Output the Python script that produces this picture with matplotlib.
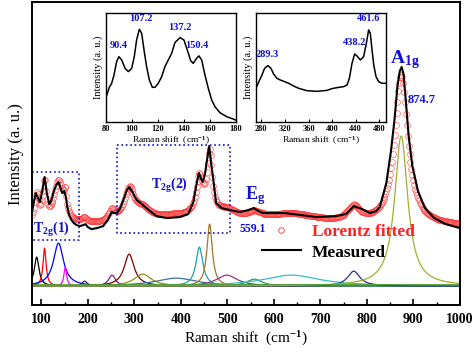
import numpy as np
import matplotlib
matplotlib.use("Agg")
import matplotlib.pyplot as plt
from matplotlib.lines import Line2D

plt.rcParams['font.family'] = ['Liberation Serif', 'DejaVu Serif']
plt.rcParams['font.weight'] = 'bold'
plt.rcParams['mathtext.fontset'] = 'custom'
plt.rcParams['mathtext.rm'] = 'Liberation Serif:bold'
plt.rcParams['mathtext.it'] = 'Liberation Serif:bold:italic'
plt.rcParams['mathtext.bf'] = 'Liberation Serif:bold'

# measured spectrum (arb. units)
meas_x = [80, 84, 88, 92, 97, 102, 107, 112, 117, 122, 127, 132, 137, 141, 145, 149.5, 153, 156,
          160, 165, 170, 176, 183, 190, 195, 200, 208, 220, 233, 243, 251, 257, 263, 270, 278,
          284, 289, 295, 305, 319, 334, 348, 370, 398, 416, 427, 433, 439, 443, 447, 452, 457,
          461, 465, 470, 476, 488, 506, 527, 545, 557, 567, 577, 600, 624, 660, 692, 735, 755,
          772, 790, 807, 820, 828, 842, 852, 860, 866, 871, 875, 879, 884, 890, 898, 910, 925,
          945, 970, 1000]
meas_y = [74, 84, 93, 89, 84, 95, 109, 93, 82, 86, 95, 101, 104, 99, 93, 95, 89, 79,
          71, 66, 63, 61, 60, 61, 62, 59, 57, 58, 60, 66, 74, 73, 73, 78, 88,
          96, 99, 95, 86, 81, 75, 70, 68, 69, 72, 84, 100, 113, 108, 104, 112, 128,
          140, 124, 106, 83, 78, 76, 74, 76, 78, 75, 73, 73, 73, 71, 69, 70, 72,
          80, 77, 73, 75, 79, 103, 135, 168, 200, 215, 219, 212, 185, 150, 120, 95, 78,
          68, 62, 58]

# Lorentz components: centre (cm-1), height, FWHM
peak_pos = [90, 107, 137, 151.5, 193, 252, 289, 318, 390, 440, 462, 499, 558, 638, 772, 874, 600]
peak_amp = [29, 38, 43, 19, 5, 11, 32, 12, 8, 39, 62, 11, 7, 11, 15, 150, 1.5]
peak_fwhm = [12, 8, 26, 7, 14, 18, 26, 45, 110, 18, 14, 55, 40, 150, 32, 34, 3000]
peak_col = ['black', 'red', 'blue', 'magenta', '#2020c0', '#802080', '#800000', '#909010',
            '#4070a0', '#20a0a8', '#a07828', '#a03078', '#30a060', '#30c0c8', '#303090',
            '#a0b030', '#50a030']
fit_offset = 58

# insets
ins1_x = [80.0, 82.8, 84.6, 86.4, 88.4, 90.2, 92.3, 94.9, 97.4, 100, 102, 103.8, 105.9, 107.7,
          109.5, 111.5, 113.6, 115.9, 117.9, 120.5, 123.1, 125.6, 128.2, 130.8, 133.3, 137.2,
          140.2, 142.8, 145.4, 147.4, 150, 151.8, 153.9, 156.4, 159, 161.6, 164.1, 168, 173.1,
          178.2, 180]
ins1_y = [0.220, 0.321, 0.358, 0.434, 0.556, 0.602, 0.572, 0.495, 0.465, 0.495, 0.602, 0.755,
          0.853, 0.816, 0.664, 0.510, 0.388, 0.321, 0.321, 0.358, 0.419, 0.510, 0.572, 0.633,
          0.731, 0.777, 0.755, 0.664, 0.566, 0.541, 0.587, 0.609, 0.572, 0.434, 0.312, 0.205,
          0.144, 0.088, 0.052, 0.030, 0.021]
ins1_lab = ['90.4', '107.2', '137.2', '150.4']
ins1_lab_x = [90.4, 107.2, 137.2, 150.4]
ins1_lab_y = [0.66, 0.91, 0.83, 0.66]

ins2_x = [272.7, 277.2, 281.2, 285.6, 291.3, 296.4, 300.9, 306.6, 312.2, 319.5, 326.3, 334.8,
          343.3, 357.4, 374.4, 391.4, 399.8, 408.3, 419.5, 425.3, 429.2, 433.7, 438.2, 442.2,
          447.8, 453.4, 458, 461.9, 464.7, 467.6, 470.5, 474.4, 478.8, 484.6, 491.4]
ins2_y = [0.333, 0.388, 0.434, 0.495, 0.520, 0.495, 0.443, 0.403, 0.388, 0.373, 0.358, 0.333,
          0.312, 0.290, 0.284, 0.293, 0.309, 0.318, 0.327, 0.342, 0.403, 0.541, 0.627, 0.608,
          0.572, 0.602, 0.725, 0.847, 0.816, 0.664, 0.526, 0.419, 0.373, 0.358, 0.358]
ins2_lab = ['289.3', '438.2', '461.6']
ins2_lab_x = [289.3, 438.2, 461.6]
ins2_lab_y = [0.58, 0.69, 0.91]


def lorentz(x, x0, a, w):
    return a / (1 + ((x - x0) / (w / 2)) ** 2)


fig = plt.figure(figsize=(4.74, 3.54), dpi=100)
ax = fig.add_axes([0.0675, 0.138, 0.9025, 0.855])

xx = np.arange(80, 1001, 0.5)
total = np.zeros_like(xx)
for x0, a, w, c in zip(peak_pos, peak_amp, peak_fwhm, peak_col):
    yy = lorentz(xx, x0, a, w)
    total += yy
    ax.plot(xx, yy, color=c, lw=0.9)

xf = np.arange(80, 1001, 2)
yf = fit_offset + np.interp(xf, xx, total)
ax.plot(xf, yf, 'o', ms=4.2, mfc='none', mec='#ff3030', mew=0.5, alpha=0.75)
ax.plot(meas_x, meas_y, color='black', lw=1.5)

blue = '#1010d0'
# dotted boxes
ax.plot([80, 181, 181, 80, 80], [113.7, 113.7, 46, 46, 113.7], ls=':', color=blue, lw=1.2)
ax.plot([263, 505, 505, 263, 263], [141.3, 141.3, 53.3, 53.3, 141.3], ls=':', color=blue, lw=1.2)

ax.text(122, 57, r'T$_\mathrm{2g}$(1)', color=blue, fontsize=10, ha='center', va='center')
ax.text(375, 101, r'T$_\mathrm{2g}$(2)', color=blue, fontsize=10, ha='center', va='center')
ax.text(560, 91, r'E$_\mathrm{g}$', color=blue, fontsize=13, ha='center', va='center')
ax.text(555, 57, '559.1', color=blue, fontsize=8.5, ha='center', va='center')
ax.text(883, 226, r'A$_\mathrm{1g}$', color=blue, fontsize=14, ha='center', va='center')
ax.text(918, 186, '874.7', color=blue, fontsize=9, ha='center', va='center')

ax.set_xlim(80, 1000)
ax.set_ylim(-19, 283.5)
ax.set_xticks(range(100, 1001, 100))
ax.set_xticks(range(150, 1000, 100), minor=True)
ax.set_yticks([])
ax.tick_params(axis='x', which='both', direction='in', top=False, labelsize=10, pad=6)
ax.tick_params(axis='x', which='major', length=4, width=1.2)
ax.tick_params(axis='x', which='minor', length=2.5, width=1.0)
for s in ax.spines.values():
    s.set_linewidth(1.4)
ax.set_xlabel(r'Raman shift  (cm$^\mathrm{-1}$)', fontsize=11, labelpad=2)
ax.set_ylabel('Intensity (a. u.)', fontsize=12, labelpad=6)

h1 = Line2D([], [], ls='none', marker='o', ms=4, mfc='none', mec='#ff3030', mew=0.6)
h2 = Line2D([], [], color='black', lw=1.5)
leg = ax.legend([h1, h2], ['Lorentz fitted', 'Measured'], loc='upper left',
                bbox_to_anchor=(0.50, 0.32), frameon=False, fontsize=12.5,
                handlelength=2.3, handletextpad=0.6, labelspacing=0.25)
leg.get_texts()[0].set_color('#ff2020')

# inset 1
a1 = fig.add_axes([0.223, 0.6545, 0.274, 0.308])
a1.plot(ins1_x, ins1_y, color='black', lw=1.1)
for t, lx, ly in zip(ins1_lab, ins1_lab_x, ins1_lab_y):
    a1.text(lx, ly, t, color=blue, fontsize=7.5, ha='center', va='bottom')
a1.set_xlim(80, 180)
a1.set_ylim(0, 1)
a1.set_xticks(range(80, 181, 20))
a1.set_yticks([])

# inset 2
a2 = fig.add_axes([0.540, 0.6545, 0.274, 0.308])
a2.plot(ins2_x, ins2_y, color='black', lw=1.1)
for t, lx, ly in zip(ins2_lab, ins2_lab_x, ins2_lab_y):
    a2.text(lx, ly, t, color=blue, fontsize=7.5, ha='center', va='bottom')
a2.set_xlim(271, 491)
a2.set_ylim(0, 1)
a2.set_xticks(range(280, 481, 40))
a2.set_yticks([])

for a in (a1, a2):
    a.tick_params(axis='x', direction='in', length=2.5, labelsize=6, pad=2)
    for s in a.spines.values():
        s.set_linewidth(1.0)
    a.set_xlabel(r'Raman shift  (cm$^\mathrm{-1}$)', fontsize=6.8, labelpad=1)
    a.set_ylabel('Intensity (a. u.)', fontsize=7.5, labelpad=2)

fig.savefig('out.png', dpi=100)
